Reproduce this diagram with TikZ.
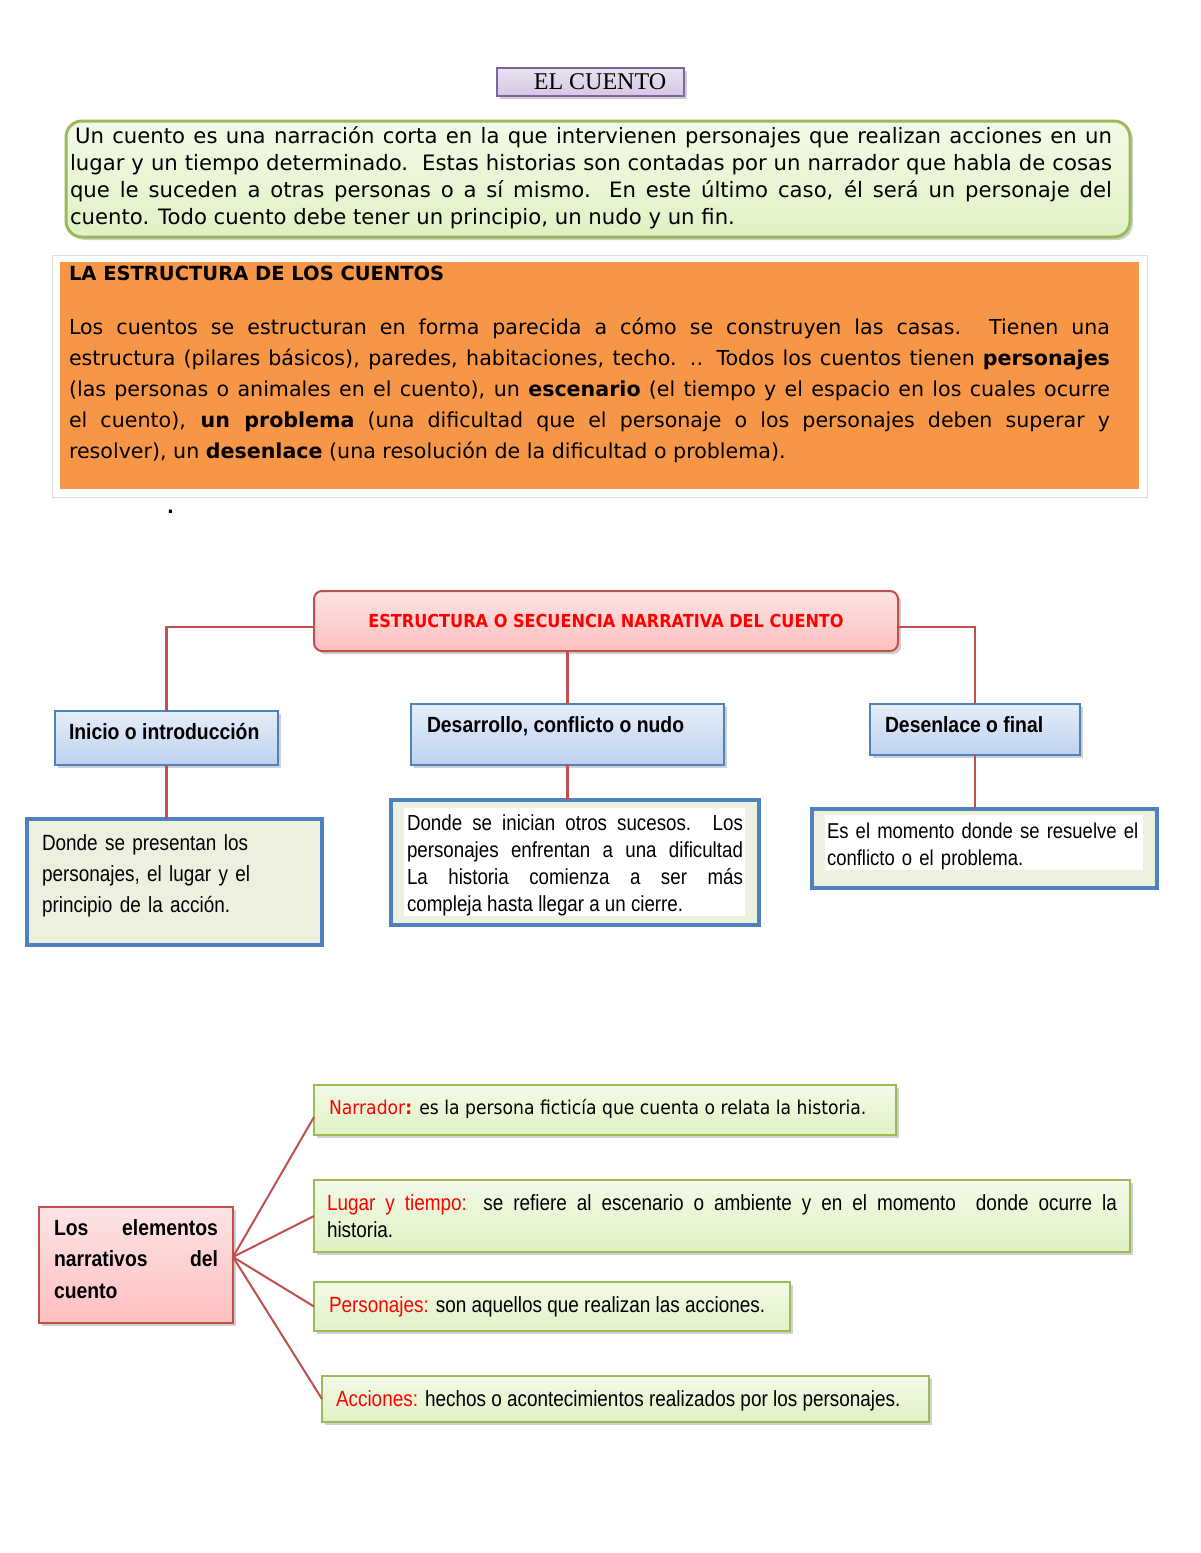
\documentclass[tikz,border=0pt]{standalone}
\usepackage{fontspec}
\setmainfont{DejaVu Sans}
\newfontfamily\tah{DejaVu Sans}
\newfontfamily\tahn[FakeStretch=0.9]{DejaVu Sans}
\newfontfamily\nar[FakeStretch=0.86]{Liberation Sans}
\newfontfamily\narb[FakeStretch=0.88]{Liberation Sans}
\newfontfamily\ser{Liberation Serif}
\usetikzlibrary{shadows}
\definecolor{purB}{HTML}{8064A2}
\definecolor{purT}{HTML}{E8E2F0}
\definecolor{purD}{HTML}{D3C8E3}
\definecolor{grnB}{HTML}{9BBB59}
\definecolor{grnT}{HTML}{F3FAE8}
\definecolor{grnD}{HTML}{E0F1C4}
\definecolor{orng}{HTML}{F79646}
\definecolor{redB}{HTML}{C0504D}
\definecolor{pnkT}{HTML}{FCE4E4}
\definecolor{pnkD}{HTML}{FFBFBF}
\definecolor{bluB}{HTML}{4F81BD}
\definecolor{bluT}{HTML}{E6EEF8}
\definecolor{bluD}{HTML}{BDD1EF}
\definecolor{olv}{HTML}{EBF1DE}
\definecolor{txtR}{HTML}{FF0000}
\tikzset{
  shad/.style={drop shadow={shadow xshift=3pt,shadow yshift=-3pt,opacity=0.3,fill=black!60}},
  boxn/.style={anchor=north west,inner sep=0pt,outer sep=0pt},
  purbox/.style={boxn,draw=purB,line width=2.5pt,top color=purT,bottom color=purD,shad},
  grnround/.style={boxn,draw=grnB,line width=3pt,rounded corners=16pt,top color=grnT,bottom color=grnD,shad},
  grnbox/.style={boxn,draw=grnB,line width=2.5pt,top color=grnT,bottom color=grnD,shad},
  redbox/.style={boxn,draw=redB,line width=2pt,top color=pnkT,bottom color=pnkD,shad},
  blubox/.style={boxn,draw=bluB,line width=2.5pt,top color=bluT,bottom color=bluD,shad},
  olvbox/.style={boxn,draw=bluB,line width=4.5pt,fill=olv},
  txt/.style={anchor=base west,inner sep=0pt,outer sep=0pt},
  conn/.style={draw=redB,line width=2.2pt},
  connb/.style={draw=redB,line width=2pt}
}
\begin{document}
\begin{tikzpicture}[x=1pt,y=-1pt]
\useasboundingbox[fill=white] (0,0) rectangle (1200,1553);

% EL CUENTO
\node[purbox,minimum width=187pt,minimum height=28pt] (ttl) at (497,68) {};
\node[anchor=center,inner sep=0pt,font={\ser\fontsize{24}{28}\selectfont}] (ttlt) at (600,82) {EL CUENTO};

% green definition box
\node[grnround,minimum width=1064pt,minimum height=116pt] (def) at (66,121) {};
\node[txt,text width=1042pt,align=justify,font={\tah\fontsize{21.2}{27.3}\selectfont}] (deft) at (70,143)
{\hspace*{5pt}Un cuento es una narración corta en la que intervienen personajes que realizan acciones en un\linebreak
lugar y un tiempo determinado.\ \ Estas historias son contadas por un narrador que habla de cosas\linebreak
que le suceden a otras personas o a sí mismo. En este último caso, él será un personaje del\linebreak
cuento. Todo cuento debe tener un principio, un nudo y un fin.};

% orange structure box
\node[boxn,draw=black!12,line width=1pt,fill=white,minimum width=1095pt,minimum height=242pt] (estw) at (52,255) {};
\node[boxn,fill=orng,minimum width=1079pt,minimum height=227pt] (est) at (60,262) {};
\node[txt,font={\tah\bfseries\fontsize{19.5}{24}\selectfont}] (estt) at (69,280) {LA ESTRUCTURA DE LOS CUENTOS};
\node[txt,text width=1041pt,align=justify,font={\tah\fontsize{20.6}{31.2}\selectfont}] (estp) at (69,334)
{Los cuentos se estructuran en forma parecida a cómo se construyen las casas. Tienen una\linebreak
estructura (pilares básicos), paredes, habitaciones, techo. .. Todos los cuentos tienen \textbf{personajes}\linebreak
(las personas o animales en el cuento), un \textbf{escenario} (el tiempo y el espacio en los cuales ocurre\linebreak
el cuento), \textbf{un problema} (una dificultad que el personaje o los personajes deben superar y\linebreak
resolver), un \textbf{desenlace} (una resolución de la dificultad o problema).};

\node[txt,font={\tah\bfseries\fontsize{18}{20}\selectfont}] (dot) at (167,513) {.};

% sequence tree
\node[redbox,rounded corners=8pt,minimum width=584pt,minimum height=60pt] (seq) at (314,591) {};
\node[anchor=center,inner sep=0pt,text=txtR,font={\tahn\bfseries\fontsize{17.9}{22}\selectfont}] (seqt) at (606,621)
{ESTRUCTURA O SECUENCIA NARRATIVA DEL CUENTO};

\node[blubox,minimum width=223pt,minimum height=54pt] (ini) at (55,711) {};
\node[txt,font={\narb\bfseries\fontsize{22}{24}\selectfont}] (init) at (69,739) {Inicio o introducción};
\node[blubox,minimum width=313pt,minimum height=61pt] (des) at (411,704) {};
\node[txt,font={\narb\bfseries\fontsize{22}{24}\selectfont}] (dest) at (427,732) {Desarrollo, conflicto o nudo};
\node[blubox,minimum width=210pt,minimum height=51pt] (fin) at (870,704) {};
\node[txt,font={\narb\bfseries\fontsize{22}{24}\selectfont}] (fint) at (885,732) {Desenlace o final};

\node[olvbox,minimum width=295pt,minimum height=126pt] (d1) at (27,819) {};
\node[txt,text width=270pt,align=left,font={\nar\fontsize{22}{31}\selectfont}] (d1t) at (42,850)
{Donde se presentan los\\personajes, el lugar y el\\principio de la acción.};

\node[olvbox,minimum width=368pt,minimum height=125pt] (d2) at (391,800) {};
\node[boxn,fill=white,minimum width=341pt,minimum height=108pt] (d2w) at (404,808) {};
\node[txt,text width=336pt,align=justify,font={\nar\fontsize{21.8}{27}\selectfont}] (d2t) at (407,830)
{Donde se inician otros sucesos. Los\linebreak
personajes enfrentan a una dificultad\linebreak
La historia comienza a ser más\linebreak
compleja hasta llegar a un cierre.};

\node[olvbox,minimum width=345pt,minimum height=79pt] (d3) at (812,809) {};
\node[boxn,fill=white,minimum width=318pt,minimum height=55pt] (d3w) at (825,815) {};
\node[txt,text width=318pt,align=left,font={\nar\fontsize{21.5}{27}\selectfont}] (d3t) at (827,838)
{Es el momento donde se resuelve el\\conflicto o el problema.};

\draw[conn] ([yshift=-6pt]seq.west) -| (ini.north);
\draw[conn] ([yshift=-6pt]seq.east) -| (fin.north);
\draw[conn] (des.north) -- (des.north |- seq.south);
\draw[conn] (ini.south) -- (ini.south |- d1.north);
\draw[conn] (des.south) -- (des.south |- d2.north);
\draw[conn] (fin.south) -- (fin.south |- d3.north);

% narrative elements
\node[redbox,minimum width=194pt,minimum height=116pt] (ele) at (39,1207) {};
\node[txt,text width=164pt,align=justify,font={\narb\bfseries\fontsize{22}{31.5}\selectfont}] (elet) at (54,1235)
{Los elementos\linebreak narrativos del\linebreak cuento};

\node[grnbox,minimum width=582pt,minimum height=50pt] (nar) at (314,1085) {};
\node[txt,font={\tahn\fontsize{19.1}{22}\selectfont}] (nart) at (329,1114)
{\textcolor{txtR}{Narrador\textbf{:}} es la persona ficticía que cuenta o relata la historia.};

\node[grnbox,minimum width=816pt,minimum height=72pt] (lug) at (314,1180) {};
\node[txt,text width=790pt,align=justify,font={\nar\fontsize{22}{27}\selectfont}] (lugt) at (327,1210)
{\textcolor{txtR}{Lugar y tiempo:} se refiere al escenario o ambiente y en el momento\ \ donde ocurre la\linebreak historia.};

\node[grnbox,minimum width=476pt,minimum height=49pt] (per) at (314,1282) {};
\node[txt,font={\nar\fontsize{22}{27}\selectfont}] (pert) at (329,1312)
{\textcolor{txtR}{Personajes:} son aquellos que realizan las acciones.};

\node[grnbox,minimum width=607pt,minimum height=46pt] (acc) at (322,1376) {};
\node[txt,font={\nar\fontsize{22}{27}\selectfont}] (acct) at (336,1406)
{\textcolor{txtR}{Acciones:} hechos o acontecimientos realizados por los personajes.};

\draw[connb] ([yshift=8pt]ele.east) -- ([yshift=-7pt]nar.west);
\draw[connb] ([yshift=8pt]ele.east) -- (lug.west);
\draw[connb] ([yshift=8pt]ele.east) -- (per.west);
\draw[connb] ([yshift=8pt]ele.east) -- (acc.west);
\end{tikzpicture}
\end{document}
